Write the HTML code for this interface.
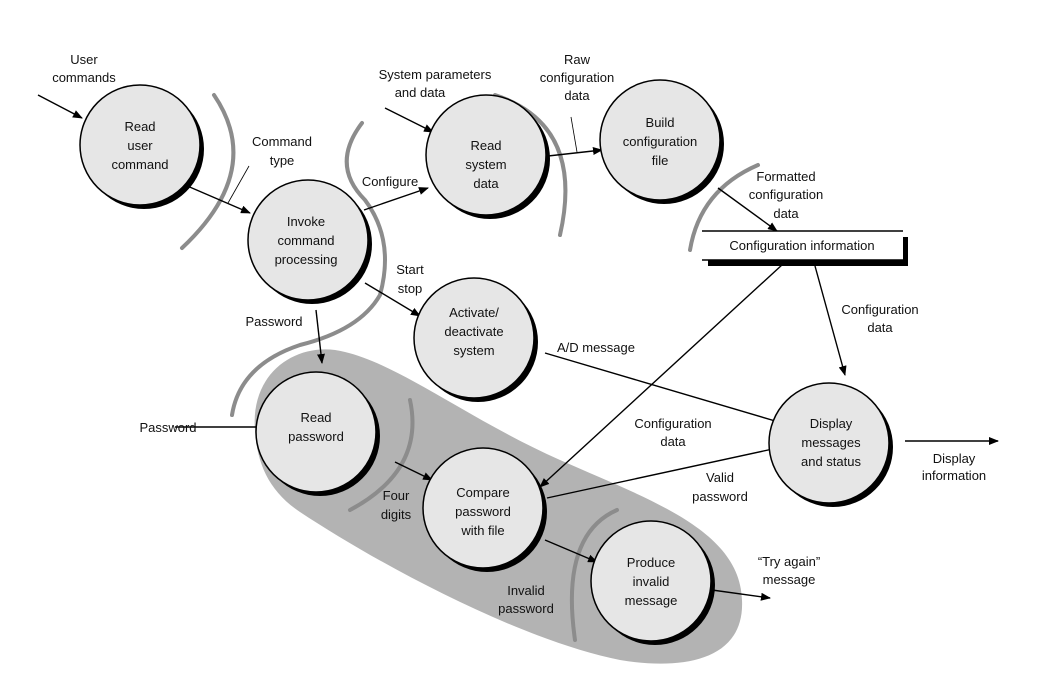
<!DOCTYPE html>
<html><head><meta charset="utf-8"><style>
html,body{margin:0;padding:0;background:#fff}
svg text{font-family:"Liberation Sans",sans-serif;font-size:13px;fill:#111}
</style></head><body>
<svg width="1042" height="693" viewBox="0 0 1042 693" xmlns="http://www.w3.org/2000/svg">
<defs>
<marker id="a" markerWidth="10" markerHeight="8" refX="9" refY="4" orient="auto" markerUnits="userSpaceOnUse">
<path d="M0,0 L10,4 L0,8 Z" fill="#000"/></marker>
</defs>
<!-- blob -->
<path d="M255,430 C250,370 300,340 345,352 C400,365 470,420 560,460 C650,500 740,530 742,600 C745,662 680,670 620,660 C520,640 380,565 300,512 C270,492 257,465 255,430 Z" fill="#b3b3b3"/>
<!-- gray arcs -->
<g fill="none" stroke="#8c8c8c" stroke-width="4" stroke-linecap="round">
<path d="M214,95 Q265,170 182,248"/>
<path d="M362,123 Q330,165 365,200 Q395,240 380,295 Q360,330 300,345 Q240,365 232,415"/>
<path d="M495,95 Q585,125 560,235"/>
<path d="M758,165 Q700,190 690,250"/>
<path d="M410,400 Q425,470 350,510"/>
<path d="M617,510 Q560,535 575,640"/>
</g>
<!-- ticks -->
<line x1="249" y1="166" x2="228" y2="203" stroke="#000" stroke-width="0.8"/>
<line x1="571" y1="117" x2="577" y2="152" stroke="#000" stroke-width="0.8"/>
<!-- arrows -->
<g stroke="#000" stroke-width="1.4" fill="none" marker-end="url(#a)">
<line x1="38" y1="95" x2="82" y2="118"/>
<line x1="185" y1="185" x2="250" y2="213"/>
<line x1="364" y1="210" x2="428" y2="188"/>
<line x1="385" y1="108" x2="433" y2="132"/>
<line x1="548" y1="156" x2="602" y2="150"/>
<line x1="718" y1="188" x2="777" y2="231"/>
<line x1="365" y1="283" x2="420" y2="316"/>
<line x1="316" y1="310" x2="322" y2="363"/>
<line x1="175" y1="427" x2="265" y2="427"/>
<line x1="395" y1="462" x2="432" y2="480"/>
<line x1="783" y1="264" x2="540" y2="487"/>
<line x1="815" y1="266" x2="845" y2="375"/>
<line x1="545" y1="353" x2="782" y2="423"/>
<line x1="547" y1="498" x2="782" y2="447"/>
<line x1="905" y1="441" x2="998" y2="441"/>
<line x1="545" y1="540" x2="597" y2="562"/>
<line x1="712" y1="590" x2="770" y2="598"/>
</g>
<!-- circles -->
<g>
<g transform="translate(140,145)"><circle cx="4" cy="4" r="60" fill="#000"/><circle r="60" fill="#e6e6e6" stroke="#000" stroke-width="1.5"/></g>
<g transform="translate(308,240)"><circle cx="4" cy="4" r="60" fill="#000"/><circle r="60" fill="#e6e6e6" stroke="#000" stroke-width="1.5"/></g>
<g transform="translate(486,155)"><circle cx="4" cy="4" r="60" fill="#000"/><circle r="60" fill="#e6e6e6" stroke="#000" stroke-width="1.5"/></g>
<g transform="translate(660,140)"><circle cx="4" cy="4" r="60" fill="#000"/><circle r="60" fill="#e6e6e6" stroke="#000" stroke-width="1.5"/></g>
<g transform="translate(474,338)"><circle cx="4" cy="4" r="60" fill="#000"/><circle r="60" fill="#e6e6e6" stroke="#000" stroke-width="1.5"/></g>
<g transform="translate(316,432)"><circle cx="4" cy="4" r="60" fill="#000"/><circle r="60" fill="#e6e6e6" stroke="#000" stroke-width="1.5"/></g>
<g transform="translate(483,508)"><circle cx="4" cy="4" r="60" fill="#000"/><circle r="60" fill="#e6e6e6" stroke="#000" stroke-width="1.5"/></g>
<g transform="translate(651,581)"><circle cx="4" cy="4" r="60" fill="#000"/><circle r="60" fill="#e6e6e6" stroke="#000" stroke-width="1.5"/></g>
<g transform="translate(829,443)"><circle cx="4" cy="4" r="60" fill="#000"/><circle r="60" fill="#e6e6e6" stroke="#000" stroke-width="1.5"/></g>
</g>
<!-- store -->
<rect x="708" y="237" width="200" height="29" fill="#000"/>
<rect x="702" y="231" width="201" height="29" fill="#fff"/>
<line x1="702" y1="231" x2="903" y2="231" stroke="#000" stroke-width="1.5"/>
<line x1="702" y1="260" x2="903" y2="260" stroke="#000" stroke-width="1.5"/>
<text x="802" y="250" text-anchor="middle">Configuration information</text>
<!-- circle labels -->
<g text-anchor="middle">
<text x="140" y="131">Read</text><text x="140" y="150">user</text><text x="140" y="169">command</text>
<text x="306" y="226">Invoke</text><text x="306" y="245">command</text><text x="306" y="264">processing</text>
<text x="486" y="150">Read</text><text x="486" y="169">system</text><text x="486" y="188">data</text>
<text x="660" y="127">Build</text><text x="660" y="146">configuration</text><text x="660" y="165">file</text>
<text x="474" y="317">Activate/</text><text x="474" y="336">deactivate</text><text x="474" y="355">system</text>
<text x="316" y="422">Read</text><text x="316" y="441">password</text>
<text x="483" y="497">Compare</text><text x="483" y="516">password</text><text x="483" y="535">with file</text>
<text x="651" y="567">Produce</text><text x="651" y="586">invalid</text><text x="651" y="605">message</text>
<text x="831" y="428">Display</text><text x="831" y="447">messages</text><text x="831" y="466">and status</text>
</g>
<!-- flow labels -->
<g text-anchor="middle">
<text x="84" y="64">User</text><text x="84" y="82">commands</text>
<text x="282" y="146">Command</text><text x="282" y="165">type</text>
<text x="435" y="79">System parameters</text><text x="420" y="97">and data</text>
<text x="577" y="64">Raw</text><text x="577" y="82">configuration</text><text x="577" y="100">data</text>
<text x="390" y="186">Configure</text>
<text x="786" y="181">Formatted</text><text x="786" y="199">configuration</text><text x="786" y="218">data</text>
<text x="410" y="274">Start</text><text x="410" y="293">stop</text>
<text x="274" y="326">Password</text>
<text x="880" y="314">Configuration</text><text x="880" y="332">data</text>
<text x="596" y="352">A/D message</text>
<text x="168" y="432">Password</text>
<text x="673" y="428">Configuration</text><text x="673" y="446">data</text>
<text x="720" y="482">Valid</text><text x="720" y="501">password</text>
<text x="954" y="463">Display</text><text x="954" y="480">information</text>
<text x="396" y="500">Four</text><text x="396" y="519">digits</text>
<text x="789" y="566">“Try again”</text><text x="789" y="584">message</text>
<text x="526" y="595">Invalid</text><text x="526" y="613">password</text>
</g>
</svg>
</body></html>
